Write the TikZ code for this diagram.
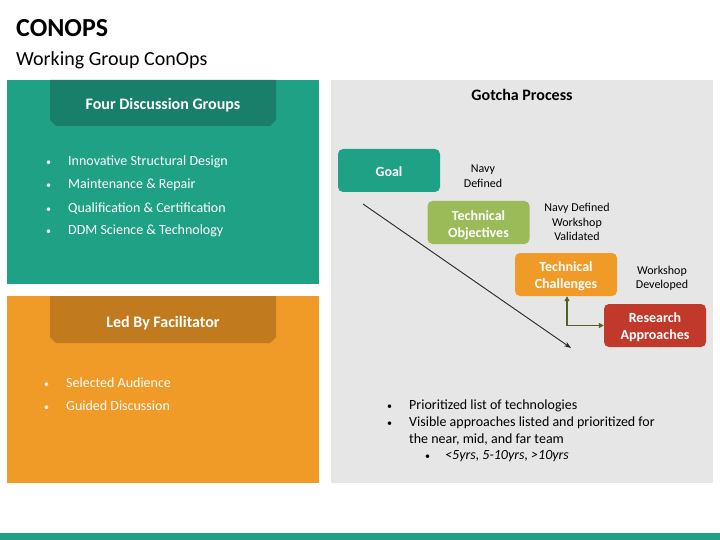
\documentclass[tikz,border=0pt]{standalone}
\usepackage{fontspec}
\setmainfont{Carlito}
\usetikzlibrary{arrows.meta}
\definecolor{tealA}{RGB}{31,161,134}
\definecolor{tealB}{RGB}{26,127,106}
\definecolor{orgA}{RGB}{240,154,40}
\definecolor{orgB}{RGB}{193,122,30}
\definecolor{grnA}{RGB}{155,187,89}
\definecolor{redA}{RGB}{192,57,43}
\definecolor{grayA}{RGB}{230,230,230}
\definecolor{oliveA}{RGB}{79,98,40}
\newcommand{\fs}[2]{\fontsize{#1}{#2}\selectfont}
\newcommand{\bul}{{\fs{10}{12}\textbullet}}
\tikzset{
  procbox/.style={rounded corners=5pt, minimum width=102pt, minimum height=43pt, inner sep=0pt},
  boxlabel/.style={align=center, text=white, font=\fs{14}{17}\bfseries, inner sep=0pt},
  note/.style={align=center, font=\fs{12}{14.5}, inner sep=0pt},
  itemw/.style={anchor=base west, text=white, font=\fs{14}{17}, inner sep=0pt},
  itemk/.style={anchor=base west, text=black, font=\fs{14}{17}, inner sep=0pt},
  tabtext/.style={text=white, font=\fs{16}{19}\bfseries, inner sep=0pt},
  garrow/.style={draw=oliveA, line width=1.3pt, -{Triangle[length=5pt,width=5pt]}},
  karrow/.style={draw=black!85, line width=0.9pt, -{Stealth[length=7pt,width=5pt]}}
}
\begin{document}
\begin{tikzpicture}[x=1pt,y=-1pt]
\useasboundingbox (0,0) rectangle (720,540);
\fill[white] (0,0) rectangle (720,540);
% titles
\node[anchor=base west, inner sep=0pt, font=\fs{26}{30}\bfseries] (title) at (16,37) {CONOPS};
\node[anchor=base west, inner sep=0pt, font=\fs{20}{24}] (subtitle) at (16,66) {Working Group ConOps};
% teal panel
\fill[tealA] (7,80) rectangle (319,284);
\fill[tealB] (50,80) -- (276,80) -- (276,120) -- (270,126) -- (56,126) -- (50,120) -- cycle;
\node[tabtext] (fdg) at (163,105) {Four Discussion Groups};
\foreach \t/\y [count=\i] in {Innovative Structural Design/166, Maintenance \& Repair/189, Qualification \& Certification/212, DDM Science \& Technology/235}{
  \node[itemw] (tb\i) at (46,\y) {\bul};
  \node[itemw] (ti\i) at (68,\y) {\t};
}
% orange panel
\fill[orgA] (7,296) rectangle (319,483);
\fill[orgB] (50,296) -- (276,296) -- (276,337) -- (270,343) -- (56,343) -- (50,337) -- cycle;
\node[tabtext] (lbf) at (163,323) {Led By Facilitator};
\node[itemw] (ob1) at (44,387) {\bul};
\node[itemw] (oi1) at (66,387) {Selected Audience};
\node[itemw] (ob2) at (44,410) {\bul};
\node[itemw] (oi2) at (66,410) {Guided Discussion};
% gray panel
\fill[grayA] (331,80) rectangle (713,483);
\node[inner sep=0pt, font=\fs{16}{19}\bfseries] (gp) at (522,95) {Gotcha Process};
\node[procbox, fill=tealA] (goal) at (389,170.5) {};
\node[procbox, fill=grnA] (to) at (478.5,222.5) {};
\node[procbox, fill=orgA] (tc) at (566,274.5) {};
\node[procbox, fill=redA] (ra) at (655,325.5) {};
\node[boxlabel] (goalt) at ([yshift=-1pt]goal.center) {Goal};
\node[boxlabel] (tot) at ([yshift=-2.5pt]to.center) {Technical\\Objectives};
\node[boxlabel] (tct) at ([yshift=-2pt]tc.center) {Technical\\Challenges};
\node[boxlabel] (rat) at ([yshift=-1.5pt]ra.center) {Research\\Approaches};
\node[note] (n1) at (483,176) {Navy\\Defined};
\node[note] (n2) at (577,222) {Navy Defined\\Workshop\\Validated};
\node[note] (n3) at (662,278.5) {Workshop\\Developed};
\coordinate (ls) at (363,204);
\coordinate (le) at (571,348);
\draw[karrow] (ls) -- (le);
\coordinate (elbow) at (567,325.5);
\draw[garrow] (elbow) -- (elbow |- tc.south);
\draw[garrow] (elbow) -- (ra.west);
% bottom list
\node[itemk] (gb1) at (387,409) {\bul};
\node[itemk] (gi1) at (409,409) {Prioritized list of technologies};
\node[itemk] (gb2) at (387,426) {\bul};
\node[itemk] (gi2) at (409,426) {Visible approaches listed and prioritized for};
\node[itemk] (gi3) at (409,443) {the near, mid, and far team};
\node[itemk] (gb4) at (425,459) {\bul};
\node[itemk, font=\fs{14}{17}\itshape] (gi4) at (445,459) {<5yrs, 5-10yrs, >10yrs};
% bottom bar
\fill[tealA] (0,533) rectangle (720,540);
\end{tikzpicture}
\end{document}
